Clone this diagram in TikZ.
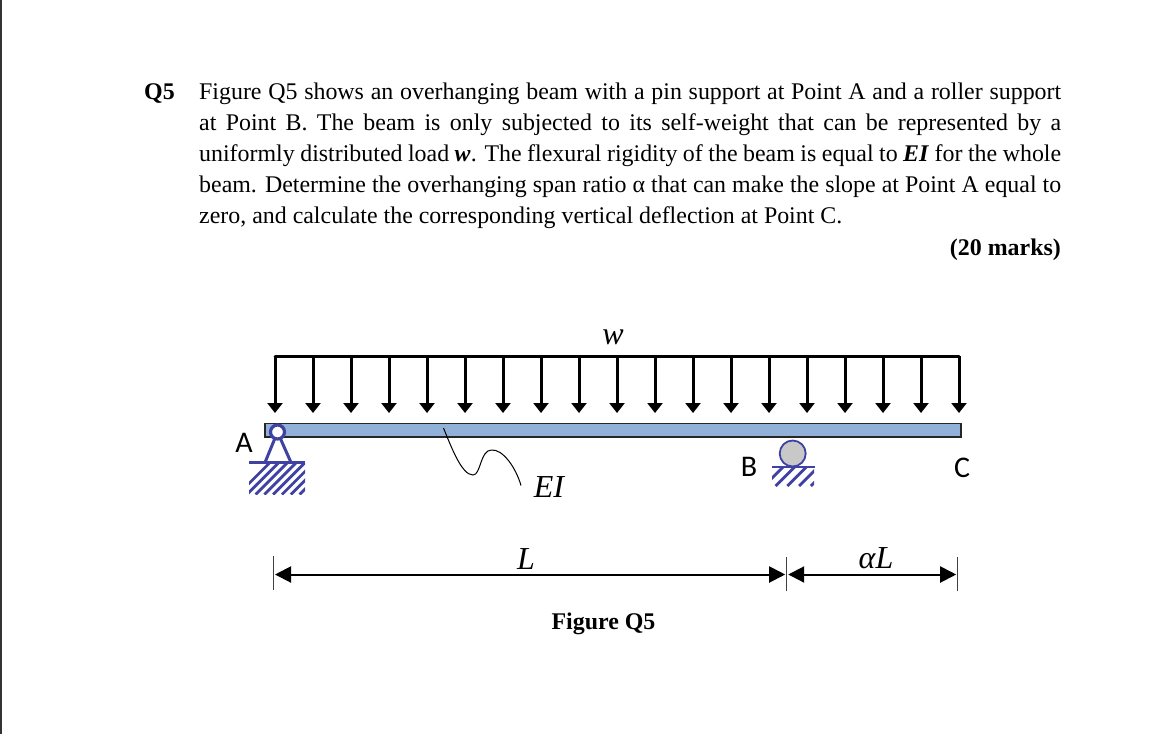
\documentclass[tikz,border=0pt]{standalone}
\usepackage{fontspec}
\setmainfont{Liberation Serif}
\newfontfamily\labelfont{Carlito}
\usetikzlibrary{arrows.meta}
\definecolor{hatchblue}{HTML}{3F42A3}
\definecolor{beamblue}{HTML}{92B1D8}
\definecolor{rollergray}{HTML}{C8C8C8}
\tikzset{
  txt/.style={inner sep=0pt,anchor=base west,font=\fontsize{23.9}{31}\selectfont},
  para/.style={txt},
  lab/.style={inner sep=0pt,anchor=base,font=\labelfont\fontsize{30}{31}\selectfont},
  mathlab/.style={inner sep=0pt,anchor=base,font=\fontsize{32}{32}\itshape\selectfont},
  loadarrow/.style={line width=3pt,-{Triangle[length=10pt,width=15pt]}},
  dimline/.style={line width=2pt,{Triangle[length=16pt,width=16pt,sep=1.5pt]}-{Triangle[length=16pt,width=16pt,sep=1.5pt]}},
  tick/.style={line width=1.2pt,black!75},
  hatchline/.style={hatchblue,line width=2.8pt},
}
\newcommand{\jline}[1]{\makebox[862pt][s]{#1}}
\begin{document}
\begin{tikzpicture}[x=1pt,y=-1pt]
\useasboundingbox (0,0) rectangle (1155,734);
\fill[white] (0,0) rectangle (1155,734);
\draw[line width=2pt,black!80] (0.8,0) -- (0.8,734);
% text
\node[txt,font=\fontsize{23.9}{31}\bfseries\selectfont] (q) at (144,99) {Q5};
\node[para] (l1) at (199,99) {\jline{Figure Q5 shows an overhanging beam with a pin support at Point A and a roller support}};
\node[para] (l2) at (199,130) {\jline{at Point B. The beam is only subjected to its self-weight that can be represented by a}};
\node[para] (l3) at (199,161) {\jline{uniformly distributed load \textbf{\textit{w}}. The flexural rigidity of the beam is equal to \textbf{\textit{EI}} for the whole}};
\node[para] (l4) at (199,192) {\jline{beam. Determine the overhanging span ratio α that can make the slope at Point A equal to}};
\node[para] (l5) at (199,223) {zero, and calculate the corresponding vertical deflection at Point C.};
\node[txt,anchor=base east,font=\fontsize{23.9}{31}\bfseries\selectfont] (marks) at (1061,255) {(20 marks)};
% load
\coordinate (ltl) at (275,356);
\coordinate (ltr) at (959,356);
\draw[line width=3pt,line cap=round] (ltl) -- (ltr);
\foreach \i in {0,...,18}{
  \coordinate (top\i) at ({275+38*\i},356);
  \coordinate (tip\i) at ({275+38*\i},413);
  \draw[loadarrow] (top\i) -- (tip\i);
}
% beam
\node[draw=black!85,fill=beamblue,line width=1.8pt,minimum width=696pt,minimum height=13.5pt,inner sep=0pt,outer sep=0pt,anchor=north west] (beam) at (265,423.5) {};
% pin support
\coordinate (pa) at (265,462.5);
\coordinate (pb) at (291,462.5);
\coordinate (pc) at (277.5,432);
\begin{scope}
  \clip (249,463) rectangle (305,494.5);
  \foreach \s in {0,...,10}{
    \draw[hatchline] ({238+8.8*\s},494.5) -- ({238+8.8*\s+32},462.5);
  }
\end{scope}
\draw[hatchline,line width=3pt] (249,462.7) -- (305,462.7);
\draw[hatchline,line width=3pt] (pa) -- (pc) -- (pb);
\node[circle,draw=hatchblue,fill=white,line width=3.2pt,minimum size=14pt,inner sep=0pt] (pin) at (pc) {};
% roller support
\begin{scope}
  \clip (772,467) rectangle (814,486);
  \foreach \s in {0,...,6}{
    \draw[hatchline] ({764+11.7*\s},486) -- ({764+11.7*\s+19},467);
  }
\end{scope}
\draw[hatchline,line width=1.8pt] (772,467) -- (815,467);
\node[circle,draw=hatchblue,fill=rollergray,line width=1.8pt,minimum size=26pt,inner sep=0pt] (roller) at (792.7,453.5) {};
% squiggle
\coordinate (s0) at (443.5,428);
\coordinate (s1) at (473,475);
\coordinate (s2) at (491.5,450);
\coordinate (s3) at (521,485.5);
\draw[line width=1pt] (s0) .. controls (452,449) and (462,475) .. (s1)
  .. controls (481,475) and (480,450) .. (s2)
  .. controls (503,449) and (516,468) .. (s3);
% dimensions
\coordinate (d1t) at (273.5,556);
\coordinate (d1b) at (273.5,590);
\coordinate (d2t) at (786.7,557);
\coordinate (d2b) at (786.7,591);
\coordinate (d3t) at (957.7,557);
\coordinate (d3b) at (957.7,591);
\draw[tick] (d1t) -- (d1b);
\draw[tick] (d2t) -- (d2b);
\draw[tick] (d3t) -- (d3b);
\coordinate (da) at (273.5,574.5);
\coordinate (db) at (786.7,574.5);
\coordinate (dc) at (957.7,574.5);
\draw[dimline] (da) -- (db);
\draw[dimline] (db) -- (dc);
% labels
\node[lab] (A) at (244,452) {A};
\node[lab] (B) at (749,476) {B};
\node[lab] (C) at (962,477) {C};
\node[mathlab] (w) at (613,344) {w};
\node[mathlab] (EI) at (549,497) {EI};
\node[mathlab] (L) at (526,569.5) {L};
\node[mathlab] (aL) at (876,568) {αL};
\node[txt,anchor=base,font=\fontsize{23.9}{31}\bfseries\selectfont] (fig) at (603.5,629) {Figure Q5};
\end{tikzpicture}
\end{document}
